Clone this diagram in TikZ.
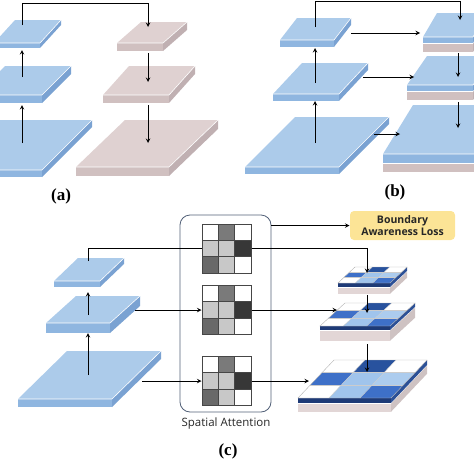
\documentclass[tikz,border=0pt]{standalone}
\usepackage{fontspec}
\setmainfont{Liberation Serif}
\setsansfont{Open Sans}
\usetikzlibrary{arrows, positioning, calc}
\definecolor{BlueTop}{RGB}{172,203,234}
\definecolor{BlueFront}{RGB}{143,182,224}
\definecolor{BlueSide}{RGB}{122,162,210}
\definecolor{PinkTop}{RGB}{223,209,209}
\definecolor{PinkFront}{RGB}{208,192,192}
\definecolor{PinkSide}{RGB}{192,176,178}
\definecolor{BaseFront}{RGB}{226,214,214}
\definecolor{BaseSide}{RGB}{206,194,194}
\definecolor{DeepFront}{RGB}{30,58,118}
\definecolor{DeepSide}{RGB}{44,80,150}
\definecolor{CellDark}{RGB}{40,82,158}
\definecolor{CellMid}{RGB}{62,112,200}
\definecolor{CellLight}{RGB}{160,196,236}
\definecolor{CellPale}{RGB}{172,204,238}
\definecolor{AttMid}{RGB}{122,122,122}
\definecolor{AttMidDark}{RGB}{105,105,105}
\definecolor{AttLight}{RGB}{200,200,200}
\definecolor{AttDark}{RGB}{55,55,55}
\definecolor{AttEdge}{RGB}{70,70,70}
\definecolor{BoxEdge}{RGB}{82,96,120}
\definecolor{LossYellow}{RGB}{252,228,150}

% slab: x0, y0 (front top-left), width, skew, height, thickness, colour prefix
\newcommand{\slab}[7]{%
  \fill[#7Top] (#1,#2) -- ++(#3,0) -- ++(#4,-#5) -- ++(-#3,0) -- cycle;
  \fill[#7Front] (#1,#2) rectangle ++(#3,#6);
  \fill[#7Side] ({#1+#3},#2) -- ++(#4,-#5) -- ++(0,#6) -- ++(-#4,#5) -- cycle;
  \draw[white, line width=0.6pt] (#1,#2) -- ++(#3,0) -- ++(#4,-#5);
}
\newcommand{\slabbase}[7]{%
  \fill[#7Front] (#1,#2) rectangle ++(#3,#6);
  \fill[#7Side] ({#1+#3},#2) -- ++(#4,-#5) -- ++(0,#6) -- ++(-#4,#5) -- cycle;
}
% grid slab: x0, y0, width, skew, height, thickness, base thickness
\newcommand{\gridslab}[7]{%
  \slabbase{#1}{#2+#6+0.8}{#3}{#4}{#5}{#7}{Base}
  \slabbase{#1}{#2}{#3}{#4}{#5}{#6}{Deep}
  \foreach \i/\j/\c in {0/0/white,1/0/CellLight,2/0/CellMid,0/1/CellMid,1/1/CellLight,2/1/CellPale,0/2/white,1/2/CellDark,2/2/white}
    \fill[\c] ({#1+\i*#3/3+\j*#4/3},{#2-\j*#5/3}) -- ++({#3/3},0) -- ++({#4/3},{-#5/3}) -- ++({-#3/3},0) -- cycle;
  \foreach \k in {1,2} {
    \draw[gray!40, line width=0.4pt] ({#1+\k*#3/3},#2) -- ++(#4,-#5);
    \draw[gray!40, line width=0.4pt] ({#1+\k*#4/3},{#2-\k*#5/3}) -- ++(#3,0);
  }
  \draw[gray!60, line width=0.4pt] (#1,#2) -- ++(#3,0) -- ++(#4,-#5) -- ++(-#3,0) -- cycle;
}
% attention map: name, centre x, centre y
\newcommand{\attgrid}[3]{%
  \node[minimum size=49pt, inner sep=0pt] (#1) at (#2,#3) {};
  \foreach \c/\r/\f in {0/0/white,1/0/AttMid,2/0/white,0/1/AttLight,1/1/AttLight,2/1/AttDark,0/2/AttMidDark,1/2/AttLight,2/2/white}
    \filldraw[fill=\f, draw=AttEdge, line width=0.7pt] ({#2-24.5+\c*49/3},{#3-24.5+\r*49/3}) rectangle ++({49/3},{49/3});
}

\begin{document}
\begin{tikzpicture}[x=1pt, y=-1pt, >=stealth, line width=1pt]
\useasboundingbox (0,0) rectangle (474,474);
\clip (0,0) rectangle (474,474);

% (a)
\slab{-51}{170}{93}{50}{50}{7}{Blue}
\slab{-24}{95}{66}{29}{29}{8}{Blue}
\slab{-6}{43}{46}{21}{23}{5}{Blue}
\slab{76}{167}{93}{49}{47}{9}{Pink}
\slab{103}{95}{66}{26}{29}{8}{Pink}
\slab{117}{43}{46}{24}{21}{8}{Pink}
\foreach \n/\x/\y in {a1/22/143, a2/22/105, a3/22/77, a4/22/50, a5/22/25, atop/148/3, a6/148/27, a7/148/53, a8/148/82, a9/148/105, a10/148/143}
  \coordinate (\n) at (\x,\y);
\draw[->] (a1) -- (a2);
\draw[->] (a3) -- (a4);
\draw[->] (a5) |- (atop) -- (a6);
\draw[->] (a7) -- (a8);
\draw[->] (a9) -- (a10);
\node[font=\bfseries\fontsize{17}{17}\selectfont] (la) at (61,196) {(a)};

% (b)
\slab{245}{167}{94}{50}{50}{7}{Blue}
\slab{273}{94}{66}{29}{31}{7}{Blue}
\slab{280}{40}{54}{17}{22}{7}{Blue}
\slabbase{383}{164}{94}{30}{49}{8}{Pink}
\slab{383}{154}{94}{30}{49}{9}{Blue}
\slabbase{407}{92}{66}{20}{29}{8}{Pink}
\slab{407}{85}{66}{20}{29}{6}{Blue}
\slabbase{423}{44}{50}{14}{24}{8}{Pink}
\slab{423}{37}{50}{14}{24}{6}{Blue}
\foreach \n/\x/\y in {b1/315/143, b2/315/101, b3/315/83, b4/315/48, b5/315/27, btop/460/1, b6/460/20,
  b7/351/33, b8/420/33, b9/363/77, b10/414/77, b11/374/134, b12/400/134,
  b13/458/53, b14/458/77, b15/458/102, b16/458/128}
  \coordinate (\n) at (\x,\y);
\draw[->] (b1) -- (b2);
\draw[->] (b3) -- (b4);
\draw[->] (b5) |- (btop) -- (b6);
\draw[->] (b7) -- (b8);
\draw[->] (b9) -- (b10);
\draw[->] (b11) -- (b12);
\draw[->] (b13) -- (b14);
\draw[->] (b15) -- (b16);
\node[font=\bfseries\fontsize{17}{17}\selectfont] (lb) at (395,192) {(b)};

% (c)
\slab{18}{399}{94}{49}{48}{8}{Blue}
\slab{46}{323}{64}{30}{27}{10}{Blue}
\slab{54}{281}{46}{24}{23}{6}{Blue}
\gridslab{298}{398}{93}{36}{38}{5}{8}
\gridslab{320}{326}{70}{25}{23}{4}{10}
\gridslab{338}{283}{52}{17}{16}{4}{6}
\node[draw=BoxEdge, line width=0.8pt, rounded corners=10pt, minimum width=91pt, minimum height=197pt] (sa) at (225.5,313.5) {};
\attgrid{g1}{226.5}{248.5}
\attgrid{g2}{226.5}{310}
\attgrid{g3}{226.5}{381}
\node[font=\sffamily\fontsize{11.5}{13}\selectfont, text=black!85] (salabel) at (226,424) {Spatial Attention};
\node[fill=LossYellow, rounded corners=4pt, minimum width=105pt, minimum height=29pt, inner sep=1pt, align=center,
  font=\sffamily\bfseries\fontsize{10.5}{12}\selectfont, text=black!85] (loss) at (402.5,225.5) {Boundary\\Awareness Loss};
\foreach \n/\x/\y in {c1/88/375, c2/88/333, c3/88/315, c4/88/292, c5/88/261, c6/367/273,
  c7/135/310, c8/142/381, c9/337/310, c10/309/381, c11/367/295, c12/367/313, c13/367/344, c14/367/372}
  \coordinate (\n) at (\x,\y);
\draw[->] (c1) -- (c2);
\draw[->] (c3) -- (c4);
\draw (c5) |- (g1.west);
\draw[->] (g1.east) -| (c6);
\draw[->] (sa.east |- loss.west) -- (loss.west);
\draw[->] (c7) -- (g2.west);
\draw[->] (c8) -- (g3.west);
\draw[->] (g2.east) -- (c9);
\draw[->] (g3.east) -- (c10);
\draw[->] (c11) -- (c12);
\draw[->] (c13) -- (c14);
\node[font=\bfseries\fontsize{17}{17}\selectfont] (lc) at (228,451) {(c)};
\end{tikzpicture}
\end{document}
